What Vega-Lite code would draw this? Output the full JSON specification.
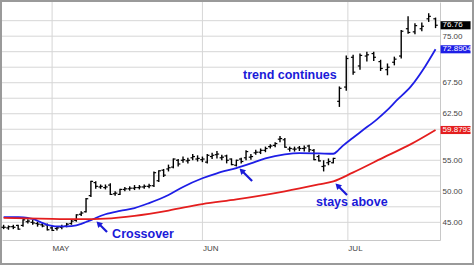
{
  "$schema": "https://vega.github.io/schema/vega-lite/v6.json",
  "width": 470,
  "height": 261,
  "autosize": {"type": "none"},
  "padding": 2,
  "background": "#9a9a9a",
  "config": {"view": {"fill": "#ffffff", "stroke": null}, "font": "Liberation Sans"},
  "datasets": {
    "vgrid": [{"t": "2003-05-01"}, {"t": "2003-06-01"}, {"t": "2003-07-01"}],
    "hgrid": [{"p": 45}, {"p": 47.5}, {"p": 50}, {"p": 52.5}, {"p": 55}, {"p": 57.5}, {"p": 60}, {"p": 62.5}, {"p": 65}, {"p": 67.5}, {"p": 70}, {"p": 72.5}, {"p": 75}, {"p": 77.5}],
    "bars": [
      {"t": "2003-04-21", "o": 44.2, "h": 44.6, "l": 43.9, "c": 44.2},
      {"t": "2003-04-22", "o": 44.1, "h": 44.5, "l": 43.8, "c": 44.3},
      {"t": "2003-04-23", "o": 44.3, "h": 44.6, "l": 43.9, "c": 44.2},
      {"t": "2003-04-24", "o": 44.5, "h": 44.6, "l": 43.8, "c": 43.9},
      {"t": "2003-04-25", "o": 44.5, "h": 45.5, "l": 44.3, "c": 45.4},
      {"t": "2003-04-26", "o": 45.1, "h": 45.5, "l": 44.8, "c": 45.2},
      {"t": "2003-04-27", "o": 45.0, "h": 45.4, "l": 44.6, "c": 44.9},
      {"t": "2003-04-28", "o": 44.8, "h": 45.1, "l": 44.3, "c": 44.7},
      {"t": "2003-04-29", "o": 44.6, "h": 45.0, "l": 44.2, "c": 44.4},
      {"t": "2003-04-30", "o": 44.6, "h": 44.8, "l": 43.7, "c": 43.8},
      {"t": "2003-05-01", "o": 44.1, "h": 44.4, "l": 43.6, "c": 43.7},
      {"t": "2003-05-02", "o": 44.0, "h": 44.4, "l": 43.7, "c": 44.1},
      {"t": "2003-05-03", "o": 44.2, "h": 44.6, "l": 43.9, "c": 44.3},
      {"t": "2003-05-04", "o": 44.4, "h": 44.9, "l": 44.2, "c": 44.7},
      {"t": "2003-05-05", "o": 44.8, "h": 45.4, "l": 44.6, "c": 45.2},
      {"t": "2003-05-06", "o": 45.3, "h": 46.3, "l": 45.1, "c": 46.2},
      {"t": "2003-05-07", "o": 46.3, "h": 46.8, "l": 46.0, "c": 46.5},
      {"t": "2003-05-08", "o": 46.7, "h": 48.9, "l": 46.6, "c": 48.8},
      {"t": "2003-05-09", "o": 49.3, "h": 51.7, "l": 49.1, "c": 51.6},
      {"t": "2003-05-10", "o": 51.4, "h": 51.6, "l": 50.4, "c": 50.8},
      {"t": "2003-05-11", "o": 50.7, "h": 51.1, "l": 50.4, "c": 50.8},
      {"t": "2003-05-12", "o": 50.6, "h": 51.1, "l": 50.3, "c": 50.7},
      {"t": "2003-05-13", "o": 51.0, "h": 51.3, "l": 49.4, "c": 49.5},
      {"t": "2003-05-14", "o": 49.6, "h": 50.0, "l": 49.3, "c": 49.7},
      {"t": "2003-05-15", "o": 49.5, "h": 50.4, "l": 49.4, "c": 50.3},
      {"t": "2003-05-16", "o": 50.3, "h": 50.7, "l": 50.0, "c": 50.4},
      {"t": "2003-05-17", "o": 50.4, "h": 50.8, "l": 50.1, "c": 50.5},
      {"t": "2003-05-18", "o": 50.5, "h": 51.0, "l": 50.2, "c": 50.6},
      {"t": "2003-05-19", "o": 50.6, "h": 51.0, "l": 50.3, "c": 50.7},
      {"t": "2003-05-20", "o": 50.7, "h": 51.1, "l": 50.4, "c": 50.8},
      {"t": "2003-05-21", "o": 50.8, "h": 51.2, "l": 50.5, "c": 50.9},
      {"t": "2003-05-22", "o": 50.9, "h": 53.2, "l": 50.7, "c": 53.0},
      {"t": "2003-05-23", "o": 51.7, "h": 53.4, "l": 51.5, "c": 53.3},
      {"t": "2003-05-24", "o": 53.4, "h": 53.6, "l": 52.3, "c": 52.6},
      {"t": "2003-05-25", "o": 53.6, "h": 54.3, "l": 53.2, "c": 53.8},
      {"t": "2003-05-26", "o": 53.9, "h": 55.3, "l": 53.7, "c": 55.2},
      {"t": "2003-05-27", "o": 55.0, "h": 55.2, "l": 54.0, "c": 54.4},
      {"t": "2003-05-28", "o": 55.0, "h": 55.6, "l": 54.6, "c": 55.1},
      {"t": "2003-05-29", "o": 54.9, "h": 55.4, "l": 54.5, "c": 55.0},
      {"t": "2003-05-30", "o": 55.4, "h": 56.0, "l": 55.0, "c": 55.6},
      {"t": "2003-05-31", "o": 55.2, "h": 55.8, "l": 54.8, "c": 55.3},
      {"t": "2003-06-01", "o": 55.1, "h": 55.6, "l": 54.7, "c": 55.2},
      {"t": "2003-06-02", "o": 54.7, "h": 56.0, "l": 54.5, "c": 55.8},
      {"t": "2003-06-03", "o": 55.6, "h": 56.2, "l": 55.2, "c": 55.8},
      {"t": "2003-06-04", "o": 55.9, "h": 56.5, "l": 55.3, "c": 56.0},
      {"t": "2003-06-05", "o": 55.4, "h": 55.9, "l": 55.0, "c": 55.5},
      {"t": "2003-06-06", "o": 55.7, "h": 55.9, "l": 54.5, "c": 55.0},
      {"t": "2003-06-07", "o": 55.2, "h": 55.3, "l": 54.2, "c": 54.3},
      {"t": "2003-06-08", "o": 54.2, "h": 55.1, "l": 54.0, "c": 55.0},
      {"t": "2003-06-09", "o": 55.2, "h": 55.4, "l": 54.5, "c": 54.8},
      {"t": "2003-06-10", "o": 55.4, "h": 56.6, "l": 55.0, "c": 56.4},
      {"t": "2003-06-11", "o": 55.5, "h": 56.0, "l": 55.1, "c": 55.6},
      {"t": "2003-06-12", "o": 56.2, "h": 56.7, "l": 55.9, "c": 56.3},
      {"t": "2003-06-13", "o": 56.3, "h": 56.9, "l": 56.0, "c": 56.6},
      {"t": "2003-06-14", "o": 56.6, "h": 57.2, "l": 56.3, "c": 56.9},
      {"t": "2003-06-15", "o": 57.2, "h": 57.6, "l": 56.9, "c": 57.3},
      {"t": "2003-06-16", "o": 57.4, "h": 57.9, "l": 57.1, "c": 57.7},
      {"t": "2003-06-17", "o": 58.4, "h": 58.9, "l": 57.9, "c": 58.5},
      {"t": "2003-06-18", "o": 58.3, "h": 58.6, "l": 57.0, "c": 57.1},
      {"t": "2003-06-19", "o": 56.8, "h": 57.2, "l": 56.4, "c": 56.9},
      {"t": "2003-06-20", "o": 56.8, "h": 57.2, "l": 56.4, "c": 56.8},
      {"t": "2003-06-21", "o": 57.0, "h": 57.3, "l": 56.5, "c": 56.9},
      {"t": "2003-06-22", "o": 56.9, "h": 57.4, "l": 56.4, "c": 57.0},
      {"t": "2003-06-23", "o": 57.3, "h": 57.5, "l": 56.3, "c": 56.7},
      {"t": "2003-06-24", "o": 56.6, "h": 56.8, "l": 55.0, "c": 55.1},
      {"t": "2003-06-25", "o": 55.6, "h": 55.9, "l": 54.8, "c": 54.9},
      {"t": "2003-06-26", "o": 54.0, "h": 55.0, "l": 53.2, "c": 54.1},
      {"t": "2003-06-27", "o": 54.6, "h": 55.3, "l": 54.2, "c": 54.8},
      {"t": "2003-06-28", "o": 54.6, "h": 55.4, "l": 54.5, "c": 55.3},
      {"t": "2003-06-29T06:00:00Z", "o": 64.5, "h": 66.9, "l": 63.6, "c": 66.6},
      {"t": "2003-06-30T16:00:00Z", "o": 66.8, "h": 71.9, "l": 66.2, "c": 71.4},
      {"t": "2003-07-02T02:00:00Z", "o": 71.6, "h": 72.0, "l": 68.8, "c": 69.2},
      {"t": "2003-07-03T12:00:00Z", "o": 70.2, "h": 72.2, "l": 69.6, "c": 71.9},
      {"t": "2003-07-04T22:00:00Z", "o": 71.8, "h": 72.5, "l": 70.9, "c": 72.0},
      {"t": "2003-07-06T08:00:00Z", "o": 72.2, "h": 72.5, "l": 71.0, "c": 71.6},
      {"t": "2003-07-07T18:00:00Z", "o": 70.9, "h": 71.2, "l": 69.4, "c": 69.8},
      {"t": "2003-07-09T04:00:00Z", "o": 69.6, "h": 70.6, "l": 68.7, "c": 70.0},
      {"t": "2003-07-10T14:00:00Z", "o": 70.8, "h": 71.7, "l": 70.3, "c": 71.3},
      {"t": "2003-07-12T00:00:00Z", "o": 71.8, "h": 76.0, "l": 71.4, "c": 75.8},
      {"t": "2003-07-13T10:00:00Z", "o": 76.2, "h": 78.2, "l": 75.4, "c": 75.6},
      {"t": "2003-07-14T20:00:00Z", "o": 75.7, "h": 77.1, "l": 75.3, "c": 76.7},
      {"t": "2003-07-16T06:00:00Z", "o": 76.2, "h": 77.2, "l": 75.8, "c": 76.6},
      {"t": "2003-07-17T16:00:00Z", "o": 77.8, "h": 78.7, "l": 77.3, "c": 78.2},
      {"t": "2003-07-19T02:00:00Z", "o": 77.8, "h": 78.0, "l": 76.3, "c": 76.76}
    ],
    "ma": [
      {"s": "ma_short", "t": "2003-04-21", "p": 45.85},
      {"s": "ma_short", "t": "2003-04-24", "p": 45.82},
      {"s": "ma_short", "t": "2003-04-26", "p": 45.7},
      {"s": "ma_short", "t": "2003-04-27", "p": 45.55},
      {"s": "ma_short", "t": "2003-04-28", "p": 45.25},
      {"s": "ma_short", "t": "2003-04-29", "p": 44.9},
      {"s": "ma_short", "t": "2003-04-30", "p": 44.6},
      {"s": "ma_short", "t": "2003-05-01", "p": 44.42},
      {"s": "ma_short", "t": "2003-05-02", "p": 44.33},
      {"s": "ma_short", "t": "2003-05-04", "p": 44.33},
      {"s": "ma_short", "t": "2003-05-06", "p": 44.5},
      {"s": "ma_short", "t": "2003-05-07", "p": 44.75},
      {"s": "ma_short", "t": "2003-05-08", "p": 45.05},
      {"s": "ma_short", "t": "2003-05-09", "p": 45.35},
      {"s": "ma_short", "t": "2003-05-10", "p": 45.7},
      {"s": "ma_short", "t": "2003-05-12", "p": 46.3},
      {"s": "ma_short", "t": "2003-05-15", "p": 46.85},
      {"s": "ma_short", "t": "2003-05-18", "p": 47.3},
      {"s": "ma_short", "t": "2003-05-21", "p": 48.1},
      {"s": "ma_short", "t": "2003-05-25", "p": 49.4},
      {"s": "ma_short", "t": "2003-05-28", "p": 50.7},
      {"s": "ma_short", "t": "2003-06-01", "p": 52.1},
      {"s": "ma_short", "t": "2003-06-04", "p": 52.9},
      {"s": "ma_short", "t": "2003-06-08", "p": 53.75},
      {"s": "ma_short", "t": "2003-06-11", "p": 54.5},
      {"s": "ma_short", "t": "2003-06-14", "p": 55.3},
      {"s": "ma_short", "t": "2003-06-18", "p": 55.95},
      {"s": "ma_short", "t": "2003-06-21", "p": 56.15},
      {"s": "ma_short", "t": "2003-06-25", "p": 56.1},
      {"s": "ma_short", "t": "2003-06-28", "p": 56.05},
      {"s": "ma_short", "t": "2003-06-29", "p": 56.6},
      {"s": "ma_short", "t": "2003-06-30", "p": 57.35},
      {"s": "ma_short", "t": "2003-07-02", "p": 58.6},
      {"s": "ma_short", "t": "2003-07-04", "p": 59.8},
      {"s": "ma_short", "t": "2003-07-07", "p": 61.6},
      {"s": "ma_short", "t": "2003-07-09", "p": 63.0},
      {"s": "ma_short", "t": "2003-07-11", "p": 64.6},
      {"s": "ma_short", "t": "2003-07-14", "p": 66.9},
      {"s": "ma_short", "t": "2003-07-17", "p": 70.2},
      {"s": "ma_short", "t": "2003-07-19T02:00:00Z", "p": 72.89},
      {"s": "ma_long", "t": "2003-04-21", "p": 45.7},
      {"s": "ma_long", "t": "2003-04-26", "p": 45.65},
      {"s": "ma_long", "t": "2003-05-01", "p": 45.55},
      {"s": "ma_long", "t": "2003-05-07", "p": 45.5},
      {"s": "ma_long", "t": "2003-05-12", "p": 45.6},
      {"s": "ma_long", "t": "2003-05-18", "p": 46.05},
      {"s": "ma_long", "t": "2003-05-25", "p": 46.9},
      {"s": "ma_long", "t": "2003-06-01", "p": 47.95},
      {"s": "ma_long", "t": "2003-06-08", "p": 48.7},
      {"s": "ma_long", "t": "2003-06-18", "p": 50.0},
      {"s": "ma_long", "t": "2003-06-25", "p": 51.1},
      {"s": "ma_long", "t": "2003-06-28", "p": 51.6},
      {"s": "ma_long", "t": "2003-07-02", "p": 53.0},
      {"s": "ma_long", "t": "2003-07-09", "p": 55.7},
      {"s": "ma_long", "t": "2003-07-14", "p": 57.6},
      {"s": "ma_long", "t": "2003-07-19T02:00:00Z", "p": 59.88}
    ],
    "arrows": [
      {"t": "2003-05-12T08:00:00Z", "p": 43.44, "t2": "2003-05-10T14:00:00Z", "p2": 44.81},
      {"t": "2003-06-11T06:00:00Z", "p": 51.66, "t2": "2003-06-09T02:00:00Z", "p2": 53.35},
      {"t": "2003-06-30T20:00:00Z", "p": 49.4, "t2": "2003-06-28T21:00:00Z", "p2": 50.93}
    ],
    "notes": [
      {"t": "2003-05-13T09:00:00Z", "p": 42.53, "text": "Crossover"},
      {"t": "2003-06-24T10:30:00Z", "p": 47.63, "text": "stays above"},
      {"t": "2003-06-09T09:00:00Z", "p": 68.1, "text": "trend continues"}
    ],
    "last": [
      {"s": "price", "t": "2003-07-19T02:00:00Z", "v": 76.76},
      {"s": "ma_short", "t": "2003-07-19T02:00:00Z", "v": 72.8904},
      {"s": "ma_long", "t": "2003-07-19T02:00:00Z", "v": 59.8793}
    ]
  },
  "layer": [
    {
      "data": {"name": "vgrid"},
      "mark": {"type": "rule", "color": "#d6d6d6", "strokeWidth": 1},
      "encoding": {
        "x": {
          "field": "t", "type": "temporal", "title": null,
          "scale": {
            "type": "utc",
            "domain": [{"year": 2003, "month": 4, "date": 20, "hours": 16, "utc": true}, {"year": 2003, "month": 7, "date": 20, "utc": true}],
            "range": [0, 438]
          },
          "axis": {
            "orient": "bottom", "offset": -23,
            "values": [{"year": 2003, "month": 5, "date": 1, "utc": true}, {"year": 2003, "month": 6, "date": 1, "utc": true}, {"year": 2003, "month": 7, "date": 1, "utc": true}],
            "labelExpr": "upper(utcFormat(datum.value, '%b'))",
            "ticks": false, "tickSize": 0, "grid": false,
            "domainColor": "#c8c8c8", "domainWidth": 1,
            "labelAlign": "left", "labelPadding": 4, "labelFontSize": 8,
            "labelColor": "#444444", "labelFont": "Liberation Sans",
            "labelFlush": false, "labelOverlap": false, "labelBound": false
          }
        },
        "y": {"datum": 42.15, "type": "quantitative", "title": null},
        "y2": {"datum": 80.51}
      }
    },
    {
      "data": {"name": "hgrid"},
      "mark": {"type": "rule", "color": "#d6d6d6", "strokeWidth": 1},
      "encoding": {
        "x": {"datum": {"year": 2003, "month": 4, "date": 20, "hours": 16, "utc": true}, "type": "temporal", "title": null},
        "x2": {"datum": {"year": 2003, "month": 7, "date": 20, "utc": true}},
        "y": {
          "field": "p", "type": "quantitative", "title": null,
          "scale": {"domain": [42.15, 80.51], "range": [238, 0], "zero": false, "nice": false},
          "axis": {
            "orient": "right", "offset": -32,
            "values": [45, 47.5, 50, 52.5, 55, 57.5, 62.5, 65, 67.5, 70, 75, 77.5],
            "format": ".2f",
            "ticks": false, "tickSize": 0, "grid": false,
            "domainColor": "#c8c8c8", "domainWidth": 1,
            "labelPadding": 2, "labelFontSize": 8, "labelColor": "#444444",
            "labelFont": "Liberation Sans", "labelAlign": "left", "labelBaseline": "middle",
            "labelFlush": false, "labelOverlap": false, "labelBound": false
          }
        }
      }
    },
    {
      "data": {"name": "bars"},
      "mark": {"type": "rule", "color": "#000000", "strokeWidth": 1.4},
      "encoding": {
        "x": {"field": "t", "type": "temporal", "title": null},
        "y": {"field": "l", "type": "quantitative", "title": null},
        "y2": {"field": "h"}
      }
    },
    {
      "data": {"name": "bars"},
      "mark": {"type": "rule", "color": "#000000", "strokeWidth": 1.2, "xOffset": -2.2},
      "encoding": {
        "x": {"field": "t", "type": "temporal", "title": null},
        "x2": {"field": "t"},
        "y": {"field": "o", "type": "quantitative", "title": null}
      }
    },
    {
      "data": {"name": "bars"},
      "mark": {"type": "rule", "color": "#000000", "strokeWidth": 1.2, "x2Offset": 2.2},
      "encoding": {
        "x": {"field": "t", "type": "temporal", "title": null},
        "x2": {"field": "t"},
        "y": {"field": "c", "type": "quantitative", "title": null}
      }
    },
    {
      "data": {"name": "ma"},
      "mark": {"type": "line", "strokeWidth": 1.8, "interpolate": "monotone"},
      "encoding": {
        "x": {"field": "t", "type": "temporal", "title": null},
        "y": {"field": "p", "type": "quantitative", "title": null},
        "color": {
          "field": "s", "type": "nominal", "legend": null,
          "scale": {"domain": ["price", "ma_short", "ma_long"], "range": ["#000000", "#1e1ee6", "#e41e1e"]}
        }
      }
    },
    {
      "data": {"name": "arrows"},
      "mark": {"type": "rule", "color": "#1a1ad8", "strokeWidth": 2.2},
      "encoding": {
        "x": {"field": "t", "type": "temporal", "title": null},
        "x2": {"field": "t2"},
        "y": {"field": "p", "type": "quantitative", "title": null},
        "y2": {"field": "p2"}
      }
    },
    {
      "data": {"name": "arrows"},
      "mark": {"type": "point", "shape": "triangle-up", "angle": -45, "filled": true, "opacity": 1, "size": 45, "color": "#1a1ad8"},
      "encoding": {
        "x": {"field": "t2", "type": "temporal", "title": null},
        "y": {"field": "p2", "type": "quantitative", "title": null}
      }
    },
    {
      "data": {"name": "notes"},
      "mark": {"type": "text", "align": "left", "baseline": "alphabetic", "fontSize": 12.5, "fontWeight": "bold", "font": "Liberation Sans", "color": "#1a1ad8"},
      "encoding": {
        "x": {"field": "t", "type": "temporal", "title": null},
        "y": {"field": "p", "type": "quantitative", "title": null},
        "text": {"field": "text"}
      }
    },
    {
      "data": {"name": "last"},
      "mark": {"type": "point", "shape": "M-1,-0.27L1,-0.27L1,0.27L-1,0.27Z", "size": 900, "filled": true, "opacity": 1, "strokeWidth": 0, "xOffset": 20},
      "encoding": {
        "x": {"field": "t", "type": "temporal", "title": null},
        "y": {"field": "v", "type": "quantitative", "title": null},
        "color": {"field": "s", "type": "nominal", "legend": null}
      }
    },
    {
      "data": {"name": "last"},
      "mark": {"type": "text", "align": "left", "baseline": "middle", "dx": 7, "fontSize": 8, "font": "Liberation Sans", "color": "#ffffff"},
      "encoding": {
        "x": {"field": "t", "type": "temporal", "title": null},
        "y": {"field": "v", "type": "quantitative", "title": null},
        "text": {"field": "v", "type": "quantitative", "format": "~g"}
      }
    }
  ]
}
